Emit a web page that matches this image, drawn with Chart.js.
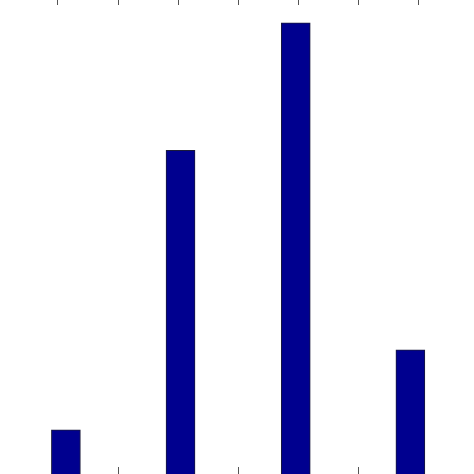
<!DOCTYPE html>
<html>
<head>
<meta charset="utf-8">
<script src="https://cdn.jsdelivr.net/npm/chart.js@4.4.1/dist/chart.umd.min.js"></script>
<style>
    html, body { margin: 0; padding: 0; background: #ffffff; }
    #chart { display: block; }
</style>
</head>
<body>
<canvas id="chart" width="474" height="474"></canvas>
<script>
// Bar positions along x and their heights (visible window 0..100)
const barPositions = [0.14, 2.05, 3.97, 5.88];
const barValues = [9.3, 68.3, 95.2, 26.2];
const tickValues = [0, 1, 2, 3, 4, 5, 6];

function drawTicks(chart, atTop) {
    const ctx = chart.ctx;
    const xScale = chart.scales.x;
    const area = chart.chartArea;
    ctx.save();
    ctx.strokeStyle = '#555555';
    ctx.lineWidth = 1;
    tickValues.forEach(v => {
        const px = Math.round(xScale.getPixelForValue(v)) + 0.5;
        ctx.beginPath();
        if (atTop) {
            ctx.moveTo(px, area.top);
            ctx.lineTo(px, area.top + 5);
        } else {
            ctx.moveTo(px, area.bottom);
            ctx.lineTo(px, area.bottom - 7);
        }
        ctx.stroke();
    });
    ctx.restore();
}

// Inward tick marks on top and bottom edges, like the original axes box
const inwardTicks = {
    id: 'inwardTicks',
    beforeDatasetsDraw(chart) { drawTicks(chart, false); },
    afterDatasetsDraw(chart) { drawTicks(chart, true); }
};

const ctx = document.getElementById('chart');

new Chart(ctx, {
    type: 'bar',
    data: {
        datasets: [{
            data: barPositions.map((x, i) => ({ x: x, y: barValues[i] })),
            backgroundColor: '#00008f',
            borderColor: '#1a1a3a',
            borderWidth: 1,
            borderSkipped: 'bottom',
            barThickness: 29
        }]
    },
    options: {
        responsive: false,
        animation: false,
        layout: { padding: 0 },
        plugins: {
            legend: { display: false },
            tooltip: { enabled: false }
        },
        scales: {
            x: {
                type: 'linear',
                display: false,
                offset: false,
                min: -0.958,
                max: 6.94,
                grid: { offset: false }
            },
            y: {
                display: false,
                min: 0,
                max: 100
            }
        }
    },
    plugins: [inwardTicks]
});
</script>
</body>
</html>
